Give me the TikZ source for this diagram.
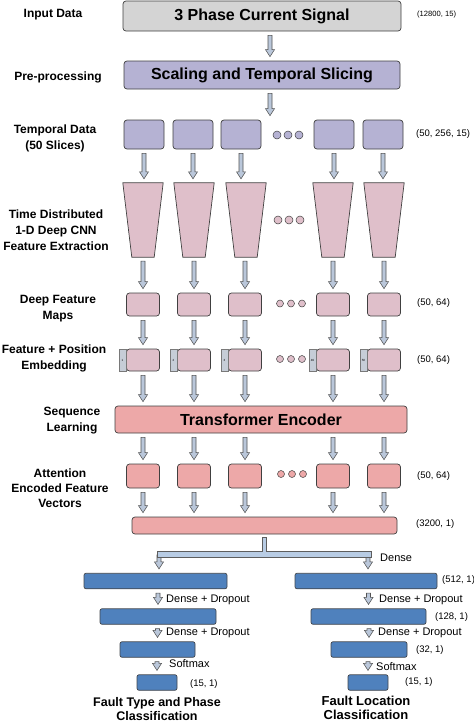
\documentclass[tikz,border=0pt]{standalone}
\usepackage{fontspec}
\setmainfont{Liberation Sans}
\usetikzlibrary{calc, positioning}
\definecolor{greybox}{RGB}{212,212,212}
\definecolor{lilac}{RGB}{181,178,211}
\definecolor{cnnpink}{RGB}{223,191,202}
\definecolor{salmon}{RGB}{237,168,168}
\definecolor{densebl}{RGB}{79,129,189}
\definecolor{arrowfill}{RGB}{186,199,218}
\definecolor{barfill}{RGB}{184,204,228}
\definecolor{tagfill}{RGB}{198,205,215}
\definecolor{edge}{RGB}{64,64,64}
\tikzset{
    box/.style = {draw = edge, line width = 0.7pt, rounded corners = 3pt, inner sep = 0pt},
    bigtext/.style = {font = \bfseries\fontsize{16}{16}\selectfont},
    slice/.style = {box, fill = lilac, minimum width = 40pt, minimum height = 29pt},
    cnn/.style = {inner sep = 0pt, minimum width = 40pt, minimum height = 74pt},
    cnnshape/.style = {draw = edge, line width = 0.7pt, fill = cnnpink, line join = round},
    feat/.style = {box, fill = cnnpink, minimum width = 33pt, minimum height = 23pt},
    tagbox/.style = {draw = edge!70, line width = 0.4pt, fill = tagfill, minimum width = 7pt, minimum height = 22pt, inner sep = 0pt, font = \fontsize{3}{3}\selectfont},
    att/.style = {box, fill = salmon, minimum width = 33pt, minimum height = 24pt},
    dense/.style = {draw = edge!90!densebl, line width = 0.7pt, rounded corners = 2pt, fill = densebl, inner sep = 0pt, minimum height = 15.5pt},
    dotty/.style = {draw = edge, line width = 0.5pt},
    lbl/.style = {align = center, font = \bfseries\fontsize{12}{16}\selectfont},
    dim/.style = {anchor = west, inner sep = 0pt, font = \fontsize{9.5}{11}\selectfont},
    step lbl/.style = {anchor = west, inner sep = 0pt, font = \fontsize{11}{13}\selectfont},
    title/.style = {align = center, font = \bfseries\fontsize{12.5}{14.5}\selectfont},
    fat/.style = {draw = edge!90, fill = arrowfill, line width = 0.55pt,
        to path = {let \p1 = (\tikztostart), \p2 = (\tikztotarget) in
            (\x1 - 2pt, \y1 - 4pt) -- (\x1 + 2pt, \y1 - 4pt) -- (\x1 + 2pt, \y2 + 11pt) -- (\x1 + 4.5pt, \y2 + 11pt)
            -- (\x1, \y2 + 4pt) -- (\x1 - 4.5pt, \y2 + 11pt) -- (\x1 - 2pt, \y2 + 11pt) -- cycle}}
}
\begin{document}
\begin{tikzpicture}[x = 1pt, y = -1pt]
    \useasboundingbox (0, 0) rectangle (474, 724);

    \node[box, fill = greybox, minimum width = 278pt, minimum height = 30pt, bigtext] (input) at (262, 16) {3 Phase Current Signal};
    \node[box, fill = lilac, minimum width = 276pt, minimum height = 28pt, bigtext] (scaling) at (262, 75) {Scaling and Temporal Slicing};
    \coordinate (mid) at (270, 0);

    \foreach \i/\x in {1/144, 2/193, 3/241, 4/334, 5/383}
        \node[slice] (slice\i) at (\x, 134.5) {};
    \foreach \i/\x in {1/143, 2/194, 3/246, 4/333, 5/384} {
        \node[cnn] (cnn\i) at (\x, 220) {};
        \draw[cnnshape] (cnn\i.north west) -- (cnn\i.north east) -- ([xshift = -9pt]cnn\i.south east) -- ([xshift = 9pt]cnn\i.south west) -- cycle;
    }
    \foreach \i/\x in {1/143, 2/194, 3/245, 4/333, 5/384} {
        \node[feat] (feat\i) at (\x, 304.5) {};
        \node[feat, minimum height = 22pt] (emb\i) at (\x, 360) {};
        \node[att] (att\i) at (\x, 476) {};
    }
    \foreach \i/\n in {1/1, 2/2, 3/3, 4/49, 5/50}
        \node[tagbox, left = 0pt of emb\i] (tag\i) {\n};

    \node[box, fill = salmon, minimum width = 292pt, minimum height = 27pt, bigtext] (enc) at (261, 419.5) {Transformer Encoder};
    \node[box, fill = salmon, minimum width = 265pt, minimum height = 17pt] (flat) at (264.5, 525.5) {};

    \foreach \d in {0, 11, 22} {
        \draw[dotty, fill = lilac] (277 + \d, 135) circle (4pt);
        \draw[dotty, fill = cnnpink] (278 + \d, 220) circle (4pt);
        \draw[dotty, fill = cnnpink] (280 + \d, 303.5) circle (3.5pt);
        \draw[dotty, fill = cnnpink] (280 + \d, 359) circle (3.5pt);
        \draw[dotty, fill = salmon] (281 + \d, 474) circle (3.5pt);
    }

    \draw[fat] (input.south -| mid) to (scaling.north -| mid);
    \draw[fat] (scaling.south -| mid) to (slice1.north -| mid);
    \foreach \i in {1, ..., 5} {
        \draw[fat] (slice\i.south) to (slice\i.south |- cnn\i.north);
        \draw[fat] (feat\i.north |- cnn\i.south) to (feat\i.north);
        \draw[fat] (feat\i.south) to (emb\i.north);
        \draw[fat] (emb\i.south) to (emb\i.south |- enc.north);
        \draw[fat] (att\i.north |- enc.south) to (att\i.north);
        \draw[fat] (att\i.south) to (att\i.south |- flat.north);
    }

    \node[dense, minimum width = 143pt] (dl1) at (155.5, 581) {};
    \node[dense, minimum width = 116pt] (dl2) at (158, 616.5) {};
    \node[dense, minimum width = 75pt] (dl3) at (157.5, 649.5) {};
    \node[dense, minimum width = 40pt] (dl4) at (157, 682.5) {};
    \node[dense, minimum width = 142pt] (dr1) at (366, 581) {};
    \node[dense, minimum width = 115pt] (dr2) at (368.5, 616.5) {};
    \node[dense, minimum width = 76pt] (dr3) at (369, 649.5) {};
    \node[dense, minimum width = 40pt] (dr4) at (368, 682.5) {};

    \coordinate (splitL) at (159, 554);
    \coordinate (splitR) at (368, 554);
    \draw[fat] ($(splitL) + (0, -3)$) to (dl1.north -| splitL);
    \draw[fat] ($(splitR) + (0, -3)$) to (dr1.north -| splitR);
    \draw[draw = edge!85, fill = barfill, line width = 0.45pt] ($(splitL) + (-2, -3)$) -| ($(flat.south) + (-2, 3)$) -- ++(4, 0)
        |- ($(splitR) + (3, -3)$) -- ++(0, 6) -- ($(splitL) + (-2, 3)$) -- cycle;
    \foreach \s in {l, r}
        \foreach \a/\b in {1/2, 2/3, 3/4}
            \draw[fat] (d\s\b.north |- d\s\a.south) to (d\s\b.north);

    \node[lbl] (lin) at (53, 15) {Input Data};
    \node[lbl] (lpre) at (58, 77) {Pre-processing};
    \node[lbl] (ltemp) at (55, 138.5) {Temporal Data\\(50 Slices)};
    \node[lbl] (lcnn) at (56, 230) {Time Distributed\\1-D Deep CNN\\Feature Extraction};
    \node[lbl] (lfeat) at (58, 309) {Deep Feature\\Maps};
    \node[lbl] (lemb) at (54, 358.5) {Feature + Position\\Embedding};
    \node[lbl] (lseq) at (72, 421) {Sequence\\Learning};
    \node[lbl, font = \bfseries\fontsize{12}{15}\selectfont] (latt) at (60, 488) {Attention\\Encoded Feature\\Vectors};

    \node[dim, font = \fontsize{7.6}{9}\selectfont] (din) at (417, 15) {(12800, 15)};
    \node[dim] (dtemp) at (416, 134) {(50, 256, 15)};
    \node[dim] (dfeat) at (417, 303) {(50, 64)};
    \node[dim] (demb) at (417, 360) {(50, 64)};
    \node[dim] (datt) at (417, 476) {(50, 64)};
    \node[dim] (dflat) at (416, 524) {(3200, 1)};
    \node[dim] (dr1dim) at (442, 580) {(512, 1)};
    \node[dim] (dr2dim) at (435, 617) {(128, 1)};
    \node[dim] (dr3dim) at (416, 650) {(32, 1)};
    \node[dim] (dl4dim) at (190, 684) {(15, 1)};
    \node[dim] (dr4dim) at (405, 682) {(15, 1)};

    \node[step lbl] (sdense) at (380, 558) {Dense};
    \node[step lbl] (sl1) at (166, 600) {Dense + Dropout};
    \node[step lbl] (sl2) at (166, 633) {Dense + Dropout};
    \node[step lbl] (sl3) at (169, 664) {Softmax};
    \node[step lbl] (sr1) at (379, 600) {Dense + Dropout};
    \node[step lbl] (sr2) at (378, 633) {Dense + Dropout};
    \node[step lbl] (sr3) at (376, 667) {Softmax};

    \node[title] (tl) at (157, 709) {Fault Type and Phase\\Classification};
    \node[title, font = \bfseries\fontsize{13}{14.5}\selectfont] (tr) at (366, 708) {Fault Location\\Classification};
\end{tikzpicture}
\end{document}
